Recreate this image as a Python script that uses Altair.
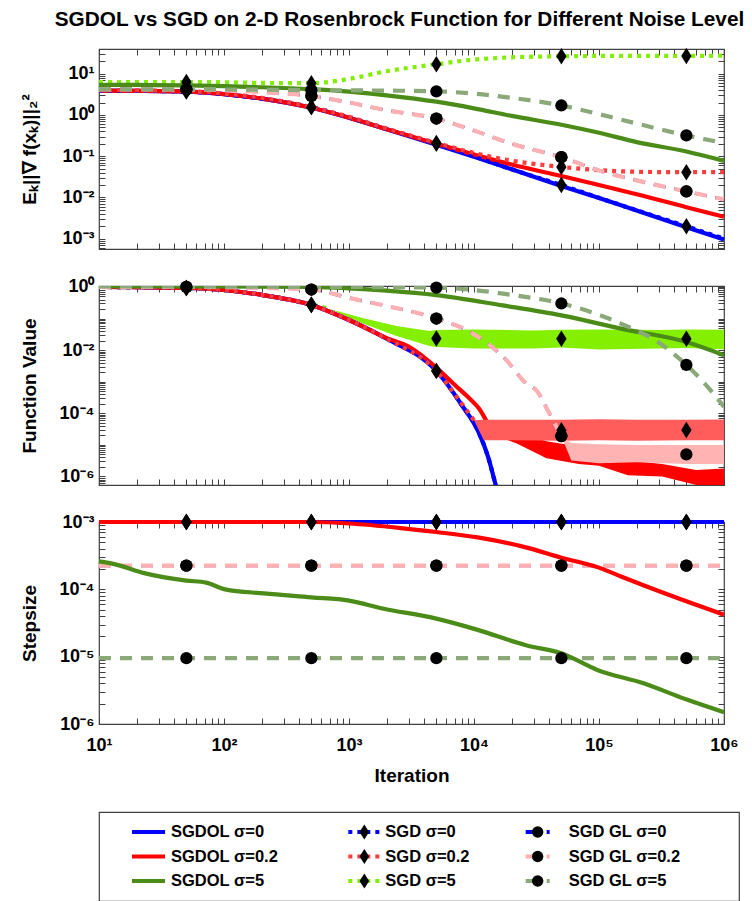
import math
import altair as alt
import pandas as pd

FONT = "Liberation Sans"

# iterations where the SGD / SGD GL curves carry markers
MARKER_ITERS = [50, 500, 5000, 50000, 500000]

NAMES = ["SGDOL σ=0", "SGDOL σ=0.2", "SGDOL σ=5",
         "SGD σ=0", "SGD σ=0.2", "SGD σ=5",
         "SGD GL σ=0", "SGD GL σ=0.2", "SGD GL σ=5"]
COLORS = ["#0000ff", "#ff0000", "#4b8b17",
          "#0000ff", "#ff3b3b", "#80f000",
          "#0000ff", "#ffb0b0", "#8ba878"]
BAND_COLORS = {"SGDOL σ=0.2": "#ff0000", "SGD σ=0.2": "#ff5c5c",
               "SGD σ=5": "#84ef00", "SGD GL σ=0.2": "#ffb3b3"}

# ---------------- E_k ||grad f(x_k)||^2 ----------------
grad_x = [10, 20, 50, 100, 200, 500, 1e3, 2e3, 5e3, 1e4, 2e4, 5e4, 1e5, 2e5, 5e5, 1e6]
grad_sgdol_0 = [3.9, 3.85, 3.7, 3.2, 2.5, 1.5, 0.86, 0.45, 0.19, 0.097, 0.048, 0.019, 0.0097, 0.0048, 0.0019, 0.00095]
grad_sgdol_02 = [3.9, 3.85, 3.7, 3.2, 2.5, 1.5, 0.86, 0.45, 0.2, 0.11, 0.063, 0.033, 0.02, 0.012, 0.0058, 0.0034]
grad_sgdol_5 = [5.4, 5.35, 5.2, 5.0, 4.7, 4.2, 3.7, 3.0, 2.1, 1.45, 0.95, 0.58, 0.37, 0.22, 0.13, 0.077]
grad_sgd_0 = [3.9, 3.85, 3.7, 3.2, 2.5, 1.55, 0.88, 0.46, 0.2, 0.1, 0.048, 0.02, 0.0098, 0.0049, 0.002, 0.001]
grad_sgd_02 = [4.0, 3.95, 3.8, 3.3, 2.6, 1.55, 0.9, 0.47, 0.21, 0.12, 0.078, 0.055, 0.046, 0.042, 0.041, 0.041]
grad_sgd_5 = [6.3, 6.3, 6.3, 6.2, 6.0, 5.9, 7.5, 11.5, 17, 22, 25, 26.5, 27, 27, 27, 27.5]
grad_gl_0 = [4.2, 4.2, 4.15, 4.0, 3.6, 2.9, 2.0, 1.3, 0.82, 0.42, 0.2, 0.095, 0.045, 0.026, 0.014, 0.009]
grad_gl_02 = [4.2, 4.2, 4.15, 4.0, 3.6, 2.9, 2.0, 1.3, 0.82, 0.42, 0.2, 0.095, 0.045, 0.026, 0.014, 0.009]
grad_gl_5 = [4.2, 4.2, 4.2, 4.15, 4.1, 4.0, 3.95, 3.9, 3.75, 3.3, 2.6, 1.7, 1.05, 0.62, 0.32, 0.21]

# ---------------- function value ----------------
fv_sgdol_0_x = [10, 20, 50, 100, 200, 500, 1000, 2000, 5000, 8000, 11000, 13000, 15000, 17000]
fv_sgdol_0_y = [1.0, 0.98, 0.93, 0.8, 0.56, 0.27, 0.09, 0.023, 0.0022, 1.8e-4, 2.3e-5, 4e-6, 5e-7, 1e-7]
fv_sgd_0_x = [10, 20, 50, 100, 200, 500, 1000, 2000, 5000, 8000, 11000, 13000, 15000, 17000]
fv_sgd_0_y = [1.0, 0.98, 0.93, 0.8, 0.56, 0.27, 0.09, 0.023, 0.0022, 1.8e-4, 2.3e-5, 4e-6, 5e-7, 1e-7]

fv_sgdol_02_x = [10, 20, 50, 100, 200, 500, 1000, 2000, 3000, 5000, 7000, 9000, 11000, 13000]
fv_sgdol_02_y = [1.0, 0.98, 0.93, 0.8, 0.56, 0.27, 0.09, 0.024, 0.013, 0.0028, 8e-4, 3.2e-4, 1.4e-4, 4.5e-5]
fv_sgdol_02_band_x = [13000, 16000, 22000, 38000, 69000, 100000, 170000, 320000, 600000, 1e6]
fv_sgdol_02_band_lo = [4.0e-5, 1.8e-5, 1.1e-5, 3.8e-6, 2.5e-6, 2.2e-6, 1.1e-6, 1.0e-6, 5.4e-7, 5.0e-7]
fv_sgdol_02_band_hi = [5.0e-5, 3.5e-5, 2.5e-5, 1.3e-5, 8.9e-6, 6.3e-6, 3.2e-6, 2.5e-6, 1.6e-6, 1.8e-6]

fv_sgd_02_x = [10, 20, 50, 100, 200, 500, 1000, 2000, 5000, 8000, 10000]
fv_sgd_02_y = [1.0, 0.98, 0.93, 0.8, 0.56, 0.27, 0.09, 0.023, 0.0022, 2.0e-4, 6e-5]
fv_sgd_02_band_x = [10000, 12000, 20000, 50000, 100000, 200000, 500000, 1e6]
fv_sgd_02_band_lo = [6e-5, 1.4e-5, 1.4e-5, 1.35e-5, 1.4e-5, 1.35e-5, 1.4e-5, 1.4e-5]
fv_sgd_02_band_hi = [6e-5, 6.3e-5, 6.3e-5, 6.3e-5, 6.5e-5, 6.3e-5, 6.3e-5, 6.4e-5]

fv_sgdol_5_x = [10, 100, 500, 1000, 2000, 5000, 17000, 50000, 150000, 500000, 1e6]
fv_sgdol_5_y = [1.05, 1.04, 1.0, 0.9, 0.76, 0.55, 0.26, 0.126, 0.048, 0.018, 0.0069]

fv_sgd_5_x = [10, 20, 50, 100, 200, 500, 700]
fv_sgd_5_y = [1.0, 0.98, 0.93, 0.8, 0.56, 0.28, 0.2]
fv_sgd_5_band_x = [700, 1260, 2400, 4400, 5000, 10000, 30000, 50000, 100000, 300000, 500000, 1e6]
fv_sgd_5_band_lo = [0.2, 0.072, 0.028, 0.0135, 0.0126, 0.0112, 0.0112, 0.012, 0.0105, 0.0112, 0.0117, 0.0107]
fv_sgd_5_band_hi = [0.2, 0.105, 0.058, 0.04, 0.043, 0.045, 0.042, 0.044, 0.045, 0.043, 0.045, 0.044]

fv_gl_02_x = [10, 50, 100, 200, 500, 1000, 2000, 5000, 10000, 18000, 26000, 32000, 40000, 50000]
fv_gl_02_y = [1.0, 1.0, 0.98, 0.93, 0.83, 0.45, 0.25, 0.1, 0.032, 0.005, 9e-4, 5e-4, 1e-4, 1.9e-5]
fv_gl_02_band_x = [50000, 60000, 100000, 200000, 500000, 1e6]
fv_gl_02_band_lo = [1.9e-5, 3.2e-6, 2.6e-6, 2.8e-6, 2.5e-6, 2.5e-6]
fv_gl_02_band_hi = [1.9e-5, 1.15e-5, 1.05e-5, 1.0e-5, 1.0e-5, 1.0e-5]
fv_gl_0_x = [10, 50, 100, 200, 500, 1000, 2000, 5000, 10000, 18000, 26000, 32000, 40000, 50000]
fv_gl_0_y = [1.0, 1.0, 0.98, 0.93, 0.83, 0.45, 0.25, 0.1, 0.032, 0.005, 9e-4, 5e-4, 1e-4, 1.9e-5]

fv_gl_5_x = [10, 100, 1000, 5000, 10000, 20000, 50000, 150000, 310000, 500000, 740000, 1e6]
fv_gl_5_y = [1.05, 1.02, 1.0, 0.95, 0.8, 0.56, 0.3, 0.069, 0.016, 0.0034, 6.9e-4, 1.6e-4]

# ---------------- stepsize ----------------
st_const_x = [10, 50, 500, 5000, 50000, 500000, 1e6]
st_sgdol_0_x = [10, 1e6]
st_sgdol_0_y = [1e-3, 1e-3]
st_sgdol_02_x = [10, 500, 1000, 2500, 5000, 10700, 26000, 50000, 100000, 150000, 360000, 1e6]
st_sgdol_02_y = [1e-3, 1e-3, 9.5e-4, 8.2e-4, 7.1e-4, 5.9e-4, 4.2e-4, 2.95e-4, 2.1e-4, 1.55e-4, 8.3e-5, 4.2e-5]
st_sgdol_5_x = [10, 13.5, 23, 50, 72, 102, 209, 500, 1000, 1860, 4900, 10700, 26000, 50000, 98000, 230000, 490000, 1e6]
st_sgdol_5_y = [2.6e-4, 2.35e-4, 1.74e-4, 1.35e-4, 1.26e-4, 1.0e-4, 8.7e-5, 7.6e-5, 6.8e-5, 5.2e-5, 3.7e-5,
                2.5e-5, 1.48e-5, 1.12e-5, 6.3e-6, 4.0e-6, 2.35e-6, 1.5e-6]
st_sgd_0 = [1e-3] * 7
st_sgd_02 = [1e-3] * 7
st_sgd_5 = [1e-3] * 7
st_gl_0 = [2.25e-4] * 7
st_gl_02 = [2.25e-4] * 7
st_gl_5 = [9.5e-6] * 7

GRAD_LINES = {
    "SGDOL σ=0": (grad_x, grad_sgdol_0), "SGDOL σ=0.2": (grad_x, grad_sgdol_02),
    "SGDOL σ=5": (grad_x, grad_sgdol_5), "SGD σ=0": (grad_x, grad_sgd_0),
    "SGD σ=0.2": (grad_x, grad_sgd_02), "SGD σ=5": (grad_x, grad_sgd_5),
    "SGD GL σ=0": (grad_x, grad_gl_0), "SGD GL σ=0.2": (grad_x, grad_gl_02),
    "SGD GL σ=5": (grad_x, grad_gl_5),
}
FV_LINES = {
    "SGDOL σ=0": (fv_sgdol_0_x, fv_sgdol_0_y), "SGDOL σ=0.2": (fv_sgdol_02_x, fv_sgdol_02_y),
    "SGDOL σ=5": (fv_sgdol_5_x, fv_sgdol_5_y), "SGD σ=0": (fv_sgd_0_x, fv_sgd_0_y),
    "SGD σ=0.2": (fv_sgd_02_x, fv_sgd_02_y), "SGD σ=5": (fv_sgd_5_x, fv_sgd_5_y),
    "SGD GL σ=0": (fv_gl_0_x, fv_gl_0_y), "SGD GL σ=0.2": (fv_gl_02_x, fv_gl_02_y),
    "SGD GL σ=5": (fv_gl_5_x, fv_gl_5_y),
}
FV_BANDS = {
    "SGDOL σ=0.2": (fv_sgdol_02_band_x, fv_sgdol_02_band_lo, fv_sgdol_02_band_hi),
    "SGD σ=0.2": (fv_sgd_02_band_x, fv_sgd_02_band_lo, fv_sgd_02_band_hi),
    "SGD σ=5": (fv_sgd_5_band_x, fv_sgd_5_band_lo, fv_sgd_5_band_hi),
    "SGD GL σ=0.2": (fv_gl_02_band_x, fv_gl_02_band_lo, fv_gl_02_band_hi),
}
ST_LINES = {
    "SGDOL σ=0": (st_sgdol_0_x, st_sgdol_0_y), "SGDOL σ=0.2": (st_sgdol_02_x, st_sgdol_02_y),
    "SGDOL σ=5": (st_sgdol_5_x, st_sgdol_5_y), "SGD σ=0": (st_const_x, st_sgd_0),
    "SGD σ=0.2": (st_const_x, st_sgd_02), "SGD σ=5": (st_const_x, st_sgd_5),
    "SGD GL σ=0": (st_const_x, st_gl_0), "SGD GL σ=0.2": (st_const_x, st_gl_02),
    "SGD GL σ=5": (st_const_x, st_gl_5),
}

ORDER_TOP = ["SGD σ=5", "SGDOL σ=0", "SGDOL σ=0.2", "SGD σ=0", "SGD σ=0.2",
             "SGDOL σ=5", "SGD GL σ=0", "SGD GL σ=0.2", "SGD GL σ=5"]
ORDER_STEP = ["SGD σ=0", "SGD σ=0.2", "SGD σ=5", "SGD GL σ=0", "SGD GL σ=0.2",
              "SGD GL σ=5", "SGDOL σ=0", "SGDOL σ=0.2", "SGDOL σ=5"]

LINE_W = 4.2
STYLE = {}
for n, c in zip(NAMES, COLORS):
    if n.startswith("SGDOL"):
        STYLE[n] = dict(color=c, strokeWidth=LINE_W)
    elif n.startswith("SGD GL"):
        STYLE[n] = dict(color=c, strokeWidth=LINE_W, strokeDash=[12, 9])
    else:
        STYLE[n] = dict(color=c, strokeWidth=LINE_W, strokeDash=[4, 5])
# the noise-free GL run lies underneath the σ=0.2 one; keep it a hair thinner
STYLE["SGD GL σ=0"]["strokeWidth"] = 3.2

SUP = str.maketrans("-0123456789", "⁻⁰¹²³⁴⁵⁶⁷⁸⁹")
DIAMOND = "M0,-1L0.63,0L0,1L-0.63,0Z"
PLOT_W = 625
TICK_COLOR = "#404040"


def label_expr(exps):
    parts = [f"abs(log(datum.value)/LN10 - ({k})) < 1e-6 ? '10{str(k).translate(SUP)}'" for k in exps]
    return " : ".join(parts) + " : ''"


def log_ticks(lo_exp, hi_exp):
    vals = []
    for d in range(math.floor(lo_exp), math.ceil(hi_exp) + 1):
        for m in range(1, 10):
            v = float(f"{m * 10.0 ** d:.6g}")
            if lo_exp - 1e-9 <= math.log10(v) <= hi_exp + 1e-9:
                vals.append(v)
    return vals


X_TICKS = log_ticks(1, 6)


def panel(lines, bands, order, ylo, yhi, label_exps, height, ytitle, bottom_labels, clip):
    xs = alt.Scale(type="log", domain=[10, 1e6], nice=False)
    ys = alt.Scale(type="log", domain=[10 ** ylo, 10 ** yhi], nice=False)
    X = lambda f="x": alt.X(f"{f}:Q", scale=xs, axis=None)
    y_ticks = log_ticks(ylo, yhi)
    layers = []
    for name in order:
        st = STYLE[name]
        if name in bands:
            bx, blo, bhi = bands[name]
            bdf = pd.DataFrame({"x": bx, "lo": blo, "hi": bhi})
            layers.append(alt.Chart(bdf).mark_area(color=BAND_COLORS[name], clip=clip).encode(
                x=X(), y=alt.Y("lo:Q", scale=ys, axis=None), y2="hi:Q"))
        if name in lines:
            lx, ly = lines[name]
            ldf = pd.DataFrame({"x": lx, "y": ly})
            layers.append(alt.Chart(ldf).mark_line(clip=clip, interpolate="monotone", **st).encode(
                x=X(), y=alt.Y("y:Q", scale=ys, axis=None)))

    # markers on the SGD (diamond) and SGD GL (circle) curves
    rows = []
    for name in NAMES:
        if name.startswith("SGDOL"):
            continue
        kind = "circle" if name.startswith("SGD GL") else "diamond"
        for it in MARKER_ITERS:
            val = None
            if name in lines and it in lines[name][0]:
                val = lines[name][1][lines[name][0].index(it)]
            elif name in bands and it in bands[name][0]:
                i = bands[name][0].index(it)
                val = math.sqrt(bands[name][1][i] * bands[name][2][i])
            if val is not None and 10 ** ylo <= val <= 10 ** yhi:
                rows.append({"x": it, "y": val, "kind": kind})
    mdf = pd.DataFrame(rows)
    layers.append(alt.Chart(mdf).transform_filter("datum.kind == 'diamond'").mark_point(
        shape=DIAMOND, size=270, filled=True, color="black", opacity=1).encode(
        x=X(), y=alt.Y("y:Q", scale=ys, axis=None)))
    layers.append(alt.Chart(mdf).transform_filter("datum.kind == 'circle'").mark_point(
        shape="circle", size=150, filled=True, color="black", opacity=1).encode(
        x=X(), y=alt.Y("y:Q", scale=ys, axis=None)))

    common = dict(tickSize=6, offset=-6, domain=False, grid=False, tickColor=TICK_COLOR,
                  tickWidth=1, labelOverlap=False, labelFlush=False)
    label_style = dict(labelFont=FONT, labelFontSize=18, labelFontWeight="bold", labelColor="black")
    title_style = dict(titleFont=FONT, titleFontWeight="bold", titleColor="black")

    x_bottom = alt.Axis(orient="bottom", values=X_TICKS, **common, **label_style, **title_style,
                        labels=bottom_labels, labelExpr=label_expr(range(1, 7)), labelPadding=12,
                        title="Iteration" if bottom_labels else None, titleFontSize=19, titlePadding=12)
    y_left = alt.Axis(orient="left", values=y_ticks, **common, **label_style, **title_style,
                      labelExpr=label_expr(label_exps), labelPadding=5, title=ytitle,
                      titleFontSize=19, titleX=-76, titleY=height / 2, titleAngle=-90,
                      titleAlign="center", titleBaseline="middle")
    x_top = alt.Axis(orient="top", values=X_TICKS, labels=False, title=None, **common)
    y_right = alt.Axis(orient="right", values=y_ticks, labels=False, title=None, **common)

    frame_df = pd.DataFrame({"x": lines[order[0]][0], "y": lines[order[0]][1]})
    layers.append(alt.Chart(frame_df).mark_point(opacity=0).encode(
        x=alt.X("x:Q", scale=xs, axis=x_bottom), y=alt.Y("y:Q", scale=ys, axis=y_left)))
    layers.append(alt.Chart(frame_df).mark_point(opacity=0).encode(
        x=alt.X("x:Q", scale=xs, axis=x_top), y=alt.Y("y:Q", scale=ys, axis=y_right)))

    return alt.layer(*layers).resolve_axis(x="independent", y="independent").properties(
        width=PLOT_W, height=height)


p_grad = panel(GRAD_LINES, {}, ORDER_TOP, -3.25, 1.6, [-3, -2, -1, 0, 1], 200,
               "Eₖ||∇ f(xₖ)||₂²", False, False)
p_fv = panel(FV_LINES, FV_BANDS, ORDER_TOP, -6.27, 0.03, [-6, -4, -2, 0], 199,
             "Function Value", False, True)
p_st = panel(ST_LINES, {}, ORDER_STEP, -6, -3, [-6, -5, -4, -3], 202, "Stepsize", True, False)

# ---------------- legend box ----------------
legend_df = pd.DataFrame({
    "series": NAMES,
    "col": [0, 0, 0, 1, 1, 1, 2, 2, 2],
    "row": [0, 1, 2, 0, 1, 2, 0, 1, 2],
})
lx = alt.X("col:Q", scale=alt.Scale(domain=[0, 3]), axis=None)
ly = alt.Y("row:Q", scale=alt.Scale(domain=[-0.816, 2.816], reverse=True), axis=None)
lcolor = alt.Color("series:N", scale=alt.Scale(domain=NAMES, range=COLORS), legend=None)
lbase = alt.Chart(legend_df).encode(x=lx, y=ly)
text_style = dict(align="left", baseline="middle", font=FONT, fontSize=16.5, fontWeight="bold", color="black")
leg_layers = [
    lbase.transform_filter("datum.col == 0").mark_rule(strokeWidth=LINE_W, xOffset=33, x2Offset=66).encode(
        x2="col:Q", color=lcolor),
    lbase.transform_filter("datum.col == 1").mark_rule(strokeWidth=LINE_W, strokeDash=[4, 5], xOffset=36,
                                                       x2Offset=70).encode(x2="col:Q", color=lcolor),
    lbase.transform_filter("datum.col == 1").mark_point(shape=DIAMOND, size=230, filled=True,
                                                        color="black", opacity=1, xOffset=52),
    lbase.transform_filter("datum.col == 2").mark_rule(strokeWidth=LINE_W, strokeDash=[12, 9], xOffset=0,
                                                       x2Offset=24).encode(x2="col:Q", color=lcolor),
    lbase.transform_filter("datum.col == 2").mark_point(shape="circle", size=130, filled=True,
                                                        color="black", opacity=1, xOffset=12),
    lbase.transform_filter("datum.col == 0").mark_text(dx=72, **text_style).encode(text="series:N"),
    lbase.transform_filter("datum.col == 1").mark_text(dx=73, **text_style).encode(text="series:N"),
    lbase.transform_filter("datum.col == 2").mark_text(dx=43, **text_style).encode(text="series:N"),
]
legend = alt.layer(*leg_layers).properties(width=640, height=89)

panels = alt.vconcat(p_grad, p_fv, p_st, spacing=37, bounds="flush")
chart = alt.vconcat(panels, legend, spacing=25).properties(
    title=alt.TitleParams("SGDOL vs SGD on 2-D Rosenbrock Function for Different Noise Level",
                          font=FONT, fontSize=20.8, fontWeight="bold", color="black", anchor="middle",
                          offset=14, dx=20),
    padding={"left": 19, "top": 8, "right": 5, "bottom": 5},
    background="white",
).configure_view(stroke=TICK_COLOR, strokeWidth=1.2)

chart.save("out.html", embed_options={"renderer": "svg", "actions": False})
